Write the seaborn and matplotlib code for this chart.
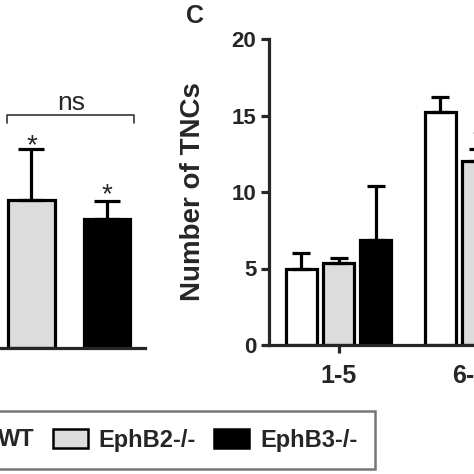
import numpy as np
import pandas as pd
import matplotlib
matplotlib.use("Agg")
import matplotlib.pyplot as plt
from matplotlib.patches import Patch
import seaborn as sns

# panel B (only the two right bars are visible)
genotypes = ["WT", "EphB2-/-", "EphB3-/-"]
b_values = [np.nan, 9.7, 8.4]
b_errors = [np.nan, 3.3, 1.2]

# panel C
age_groups = ["1-5", "6-10"]
c_wt = [5.0, 15.2]
c_wt_err = [1.0, 1.0]
c_b2 = [5.35, 12.0]
c_b2_err = [0.35, 0.8]
c_b3 = [6.85, np.nan]
c_b3_err = [3.55, np.nan]

colors = ["white", "#dcdcdc", "black"]

sns.set_theme(style="ticks")
plt.rcParams["font.family"] = ["Liberation Sans", "DejaVu Sans"]

fig = plt.figure(figsize=(4.74, 4.74), dpi=100)
W = H = 474.0

LW = 2.3

def px_axes(left, bottom, width, height):
    # pixel box (top-left origin) -> figure fraction
    return fig.add_axes([left / W, (H - bottom) / H, width / W, height / H])

# ---- panel B ----
axb = px_axes(-81.75, 348, 226.5, 306)
dfb = pd.DataFrame({"genotype": genotypes, "value": b_values})
sns.barplot(data=dfb, x="genotype", y="value", hue="genotype", order=genotypes,
            hue_order=genotypes, palette=colors, edgecolor="black", linewidth=LW,
            width=0.62, errorbar=None, legend=False, ax=axb)
xb = np.arange(len(genotypes))
eb = np.array(b_errors)
axb.errorbar(xb, b_values, yerr=[np.zeros_like(eb), eb], fmt="none", ecolor="black",
             elinewidth=LW, capsize=9.5, capthick=LW, zorder=1)
axb.set_xlim(-0.5, 2.5)
axb.set_ylim(0, 20)
axb.set_xticks([])
axb.set_yticks([])
axb.set_xlabel("")
axb.set_ylabel("")
sns.despine(ax=axb)
axb.spines["bottom"].set_linewidth(LW)
axb.spines["left"].set_linewidth(LW)
# significance stars
axb.text(xb[1], 12.75, "*", ha="center", va="baseline", fontsize=20)
axb.text(xb[2], 9.5, "*", ha="center", va="baseline", fontsize=20)
# ns bracket
axb.plot([0.675, 0.675, 2.36, 2.36], [14.7, 15.2, 15.2, 14.7], color="#333333", lw=1.2,
         clip_on=False)
axb.text(1.52, 15.55, "ns", ha="center", va="baseline", fontsize=19)

# ---- panel C ----
axc = px_axes(269, 345, 278, 306)
rows = []
for g, vals in zip(genotypes, [c_wt, c_b2, c_b3]):
    for a, v in zip(age_groups, vals):
        rows.append({"age": a, "genotype": g, "n": v})
dfc = pd.DataFrame(rows)
sns.barplot(data=dfc, x="age", y="n", hue="genotype", order=age_groups,
            hue_order=genotypes, palette=colors, edgecolor="black", linewidth=LW,
            gap=0.15, errorbar=None, legend=False, ax=axc)
offsets = (np.arange(3) - 1) * 0.8 / 3
for k, (vals, errs) in enumerate([(c_wt, c_wt_err), (c_b2, c_b2_err), (c_b3, c_b3_err)]):
    xs = np.arange(len(age_groups)) + offsets[k]
    e = np.array(errs)
    axc.errorbar(xs, vals, yerr=[np.zeros_like(e), e], fmt="none", ecolor="black",
                 elinewidth=LW, capsize=6.5, capthick=LW, zorder=1)
axc.text(1 + offsets[1], 12.9, "*", ha="center", va="baseline", fontsize=20)
axc.set_xlim(-0.5, 1.5)
axc.set_ylim(0, 20)
axc.set_yticks([0, 5, 10, 15, 20])
axc.set_xlabel("")
axc.set_ylabel("Number of TNCs", fontsize=20, fontweight="bold")
axc.yaxis.set_label_coords(-0.227, 0.5)
sns.despine(ax=axc)
for s in ("left", "bottom"):
    axc.spines[s].set_linewidth(LW)
axc.tick_params(axis="y", width=LW, length=6, labelsize=16, pad=3)
axc.tick_params(axis="x", width=LW, length=6, labelsize=18, pad=8)
for lab in axc.get_xticklabels() + axc.get_yticklabels():
    lab.set_fontweight("bold")

fig.text(195 / W, (H - 16) / H, "C", fontsize=18, fontweight="bold",
         ha="center", va="center")

# ---- legend ----
handles = [Patch(facecolor=c, edgecolor="black", linewidth=1.8) for c in colors]
leg = fig.legend(handles, genotypes, ncol=3, loc="center right",
                 bbox_to_anchor=(375 / W, (H - 440) / H), frameon=True, fancybox=False,
                 prop={"size": 17, "weight": "bold"}, handlelength=1.5, handleheight=0.9,
                 handletextpad=0.45, columnspacing=0.75, borderpad=0.75, borderaxespad=0)
leg.get_frame().set_edgecolor("#555555")
leg.get_frame().set_linewidth(1.8)

fig.savefig("out.png", dpi=100)
